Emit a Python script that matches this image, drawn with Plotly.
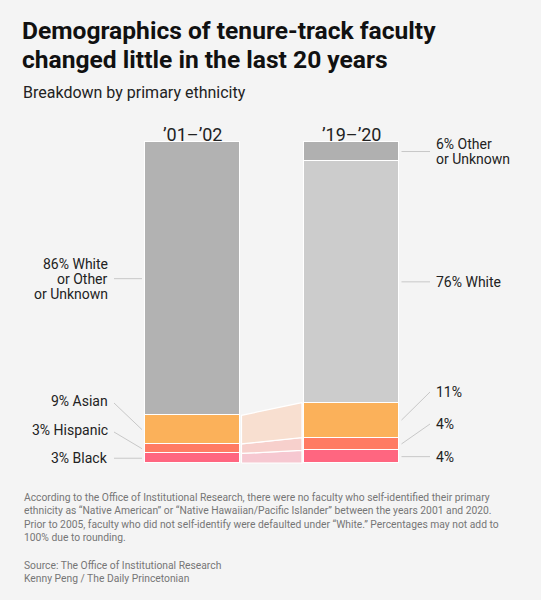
import plotly.graph_objects as go

# ---------------- data ----------------
periods = ["’01–’02", "’19–’20"]
black = [3, 4]
hispanic = [3, 4]
asian = [9, 11]
white = [86, 76]          # '01-'02: White or Other or Unknown
other = [None, 6]         # Other or Unknown (separate only in '19-'20)

left_labels = {
    "white": ["86% White", "or Other", "or Unknown"],
    "asian": ["9% Asian"],
    "hispanic": ["3% Hispanic"],
    "black": ["3% Black"],
}
right_labels = {
    "other": ["6% Other", "or Unknown"],
    "white": ["76% White"],
    "asian": ["11%"],
    "hispanic": ["4%"],
    "black": ["4%"],
}

title_lines = ["Demographics of tenure-track faculty", "changed little in the last 20 years"]
subtitle = "Breakdown by primary ethnicity"
footnote = ("According to the Office of Institutional Research, there were no faculty who self-identified their primary<br>"
            "ethnicity as “Native American” or “Native Hawaiian/Pacific Islander” between the years 2001 and 2020.<br>"
            "Prior to 2005, faculty who did not self-identify were defaulted under “White.” Percentages may not add to<br>"
            "100% due to rounding.")
source = "Source: The Office of Institutional Research<br>Kenny Peng / The Daily Princetonian"

# ---------------- style ----------------
BG = "#f4f4f4"
C_BLACK, C_HISP, C_ASIAN = "#ff6680", "#ff7b63", "#fbb15a"
C_WHITE = ["#b2b2b2", "#cccccc"]
C_OTHER = "#b0b0b0"
CONN = {"black": "#f6c8d1", "hispanic": "#f7d0cc", "asian": "#f8dfd0"}
LINE_C = "#c8c8c8"
FONT = "Roboto"
TXT = "#222222"

W, H = 541, 600
BAR_PX = [192.5, 351.0]
BAR_W_PX = 95
Y0_PX, Y1_PX = 463, 142
LINE_STEP_PX = 15

totals = [sum(v or 0 for v in col) for col in zip(black, hispanic, asian, white, other)]
TOTAL = max(totals)
PX_PER_X = BAR_PX[1] - BAR_PX[0]
PX_PER_Y = (Y0_PX - Y1_PX) / TOTAL


def X(px):
    return (px - BAR_PX[0]) / PX_PER_X


def Y(py):
    return (Y0_PX - py) / PX_PER_Y


bw = BAR_W_PX / PX_PER_X
xs = [0, 1]

fig = go.Figure()
series = [("black", black, [C_BLACK] * 2), ("hispanic", hispanic, [C_HISP] * 2),
          ("asian", asian, [C_ASIAN] * 2), ("white", white, C_WHITE), ("other", other, [C_OTHER] * 2)]
bases = {}
cum = [0, 0]
for name, vals, cols in series:
    bases[name] = list(cum)
    fig.add_trace(go.Bar(x=xs, y=vals, width=bw, marker=dict(color=cols, line=dict(color="white", width=1.2)),
                         hoverinfo="skip", showlegend=False))
    cum = [c + (v or 0) for c, v in zip(cum, vals)]

# connectors between bars
gap = 1.5 / PX_PER_X
for name, vals, _ in series[:3]:
    b0, b1 = bases[name]
    t0, t1 = b0 + vals[0], b1 + vals[1]
    xa, xb = xs[0] + bw / 2 + gap, xs[1] - bw / 2 - gap
    fig.add_trace(go.Scatter(x=[xa, xb, xb, xa, xa], y=[b0, b1, t1, t0, b0], mode="lines", fill="toself",
                             fillcolor=CONN[name], line=dict(color="white", width=1.2),
                             hoverinfo="skip", showlegend=False))


def mid(name, i):
    vals = dict((n, v) for n, v, _ in series)[name]
    return bases[name][i] + vals[i] / 2


annots = []
shapes = []
LBL = dict(family=FONT, size=14, color=TXT)


def add_label(lines, yc, xpx, anchor):
    n = len(lines)
    step = LINE_STEP_PX / PX_PER_Y
    for k, t in enumerate(lines):
        yy = yc + ((n - 1) / 2 - k) * step
        annots.append(dict(x=X(xpx), y=yy, xref="x", yref="y", text=t, showarrow=False,
                           xanchor=anchor, yanchor="middle", align=anchor, font=LBL))


# left labels (bar 0)
left_pos = {"white": None, "asian": 401, "hispanic": 430, "black": None}
for name, lines in left_labels.items():
    m = mid(name, 0)
    ly = m if left_pos[name] is None else Y(left_pos[name])
    add_label(lines, ly, 110, "right")
    shapes.append(dict(type="line", xref="x", yref="y", x0=X(114), y0=ly if left_pos[name] is None else Y(left_pos[name] + 2),
                       x1=xs[0] - bw / 2 - 3 / PX_PER_X, y1=m, line=dict(color=LINE_C, width=1)))

# right labels (bar 1)
right_pos = {"other": None, "white": None, "asian": 392, "hispanic": 424, "black": None}
for name, lines in right_labels.items():
    m = mid(name, 1)
    ly = m if right_pos[name] is None else Y(right_pos[name])
    add_label(lines, ly, 434, "left")
    shapes.append(dict(type="line", xref="x", yref="y", x0=xs[1] + bw / 2 + 3 / PX_PER_X, y0=m,
                       x1=X(430), y1=ly, line=dict(color=LINE_C, width=1)))

# column headers
for i, p in enumerate(periods):
    annots.append(dict(x=xs[i], y=Y(134), xref="x", yref="y", text=p, showarrow=False,
                       xanchor="center", yanchor="middle", font=dict(family=FONT, size=18, color=TXT)))

# title, subtitle
for i, (t, py) in enumerate(zip(title_lines, [30, 59])):
    annots.append(dict(x=20 / W, y=1 - py / H, xref="paper", yref="paper", text="<b>" + t + "</b>", showarrow=False,
                       xanchor="left", yanchor="middle", font=dict(family=FONT, size=24.6, color="#111111")))
annots.append(dict(x=21 / W, y=1 - 92 / H, xref="paper", yref="paper", text=subtitle, showarrow=False,
                   xanchor="left", yanchor="middle", font=dict(family=FONT, size=16, color=TXT)))

# footnote + source
NOTE = dict(family=FONT, size=10.3, color="#767676")
annots.append(dict(x=22 / W, y=1 - 517 / H, xref="paper", yref="paper", text=footnote, showarrow=False,
                   xanchor="left", yanchor="middle", align="left", font=NOTE))
annots.append(dict(x=22 / W, y=1 - 572 / H, xref="paper", yref="paper", text=source, showarrow=False,
                   xanchor="left", yanchor="middle", align="left", font=NOTE))

fig.update_layout(
    width=W, height=H, margin=dict(l=0, r=0, t=0, b=0),
    paper_bgcolor=BG, plot_bgcolor=BG, barmode="stack", bargap=0,
    xaxis=dict(range=[X(0), X(W)], visible=False, fixedrange=True),
    yaxis=dict(range=[Y(H), Y(0)], visible=False, fixedrange=True),
    annotations=annots, shapes=shapes,
)
fig.write_html("out.html", config={"displayModeBar": False},
               post_script="document.body.style.margin='0';document.body.style.overflow='hidden';")
